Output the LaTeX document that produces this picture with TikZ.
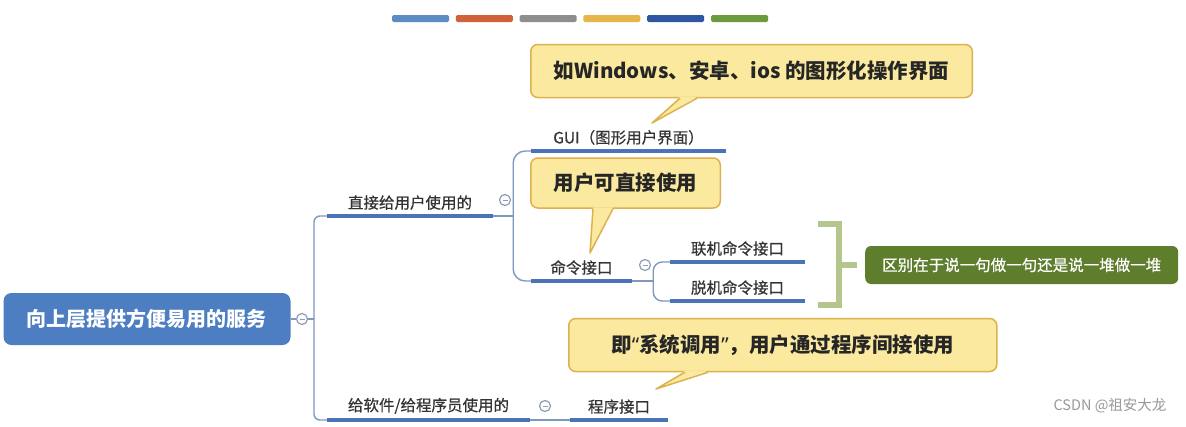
\documentclass[tikz,border=0pt]{standalone}
\usepackage{fontspec}
\setmainfont{Noto Sans CJK SC}
\newfontfamily\labelfont{Noto Sans CJK SC}[FakeBold=0.6]
\newfontfamily\quotefont{Noto Sans}
\usepackage{xcolor}
\definecolor{rootblue}{HTML}{4E7EC2}
\definecolor{lineblue}{HTML}{4B74B8}
\definecolor{twigblue}{HTML}{7F98BE}
\definecolor{foldgray}{HTML}{8C9DB6}
\definecolor{notefill}{HTML}{FAE99F}
\definecolor{noteedge}{HTML}{DCB24E}
\definecolor{sumgreen}{HTML}{5E7E2D}
\definecolor{bracegreen}{HTML}{B4C68C}
\definecolor{textgray}{HTML}{333333}
\definecolor{barblue}{HTML}{5B8CC4}
\definecolor{barred}{HTML}{D0623A}
\definecolor{bargray}{HTML}{8E8E8E}
\definecolor{baryellow}{HTML}{E7B54A}
\definecolor{barnavy}{HTML}{2F56A3}
\definecolor{bargreen}{HTML}{6C9B3F}
\usetikzlibrary{positioning}

\begin{document}
\begin{tikzpicture}[x=1pt, y=-1pt,
  root/.style={rounded corners=8pt, fill=rootblue, text=white, font=\fontsize{20}{24}\selectfont\bfseries, minimum width=287pt, minimum height=52pt},
  topic/.style={anchor=south, inner xsep=0pt, inner ysep=6pt, text=textgray, font=\labelfont\fontsize{15.5}{18}\selectfont},
  uline/.style={lineblue, line width=3.5pt},
  twig/.style={twigblue, line width=1.4pt},
  fold/.style={circle, draw=foldgray, line width=1.2pt, fill=white, minimum size=11pt, inner sep=0pt,
    path picture={\draw[foldgray, line width=1pt] ([xshift=-2.5pt]path picture bounding box.center) -- ([xshift=2.5pt]path picture bounding box.center);}},
  note/.style={anchor=west, rounded corners=7pt, draw=noteedge, fill=notefill, line width=1.5pt, inner xsep=23pt, minimum height=53pt, text=black!85, font=\fontsize{20.5}{24}\selectfont\bfseries},
  pointer/.style={noteedge, line width=1.5pt, line join=round},
  summary/.style={anchor=west, rounded corners=6pt, fill=sumgreen, text=white, inner xsep=17pt, minimum height=38pt, font=\labelfont\fontsize{15.5}{18}\selectfont},
  brace/.style={bracegreen, line width=5.5pt}]

  \fill[white] (0,0) rectangle (1186,426);
  \useasboundingbox (0,0) rectangle (1186,426);

  % colour strip
  \foreach \c [count=\i from 0] in {barblue,barred,bargray,baryellow,barnavy,bargreen}
    \fill[\c, rounded corners=1.5pt] (392+\i*63.8,15) rectangle ++(57,7);

  % topics
  \node[root] (service) at (147,319) {向上层提供方便易用的服务};
  \node[topic, minimum width=166pt] (user) at (410,216) {直接给用户使用的};
  \node[topic, minimum width=203pt] (dev) at (428.5,420) {给软件/给程序员使用的};
  \node[topic, minimum width=195pt] (gui) at (628.5,151) {GUI（图形用户界面）};
  \node[topic, minimum width=101pt] (cmd) at (581.5,281) {命令接口};
  \node[topic, minimum width=135pt] (online) at (737.5,262) {联机命令接口};
  \node[topic, minimum width=135pt] (offline) at (737.5,301) {脱机命令接口};
  \node[topic, minimum width=98pt] (api) at (619,420) {程序接口};

  % branches
  \coordinate (trunk) at (314,319);
  \draw[twig] (service.east) -- (trunk);
  \draw[twig, rounded corners=6pt] (user.south west) -- (user.south west -| trunk) -- (dev.south west -| trunk) -- (dev.south west);
  \draw[twig] (user.south east) -- ++(20,0);
  \draw[twig, rounded corners=12pt] (gui.south west) -| ([xshift=20pt]user.south east) |- (cmd.south west);
  \draw[twig] (cmd.south east) -- ++(21,0);
  \draw[twig, rounded corners=9pt] (online.south west) -| ([xshift=21pt]cmd.south east) |- (offline.south west);
  \draw[twig] (dev.south east) -- (api.south west);
  \foreach \t in {user,dev,gui,cmd,online,offline,api}
    \draw[uline] (\t.south west) -- (\t.south east);

  % fold buttons
  \node[fold] (f0) at (302,319) {};
  \node[fold] (f1) at (505,200) {};
  \node[fold] (f2) at (645,265) {};
  \node[fold] (f3) at (545,406) {};

  % notes
  \node[note] (guinote) at (530,71) {如Windows、安卓、ios 的图形化操作界面};
  \node[note, minimum height=50pt] (cmdnote) at (530,183) {用户可直接使用};
  \node[note, minimum width=428pt] (apinote) at (568,345) {即{\quotefont\bfseries “}系统调用{\quotefont\bfseries ”}，用户通过程序间接使用};
  \coordinate (guitip) at (652,123);
  \coordinate (cmdtip) at (590,253);
  \coordinate (apitip) at (656,389);
  \fill[notefill] ([xshift=150pt, yshift=1.5pt]guinote.south west) -- (guitip) -- ([xshift=167pt, yshift=1.5pt]guinote.south west) -- cycle;
  \draw[pointer] ([xshift=150pt]guinote.south west) -- (guitip) -- ([xshift=167pt]guinote.south west);
  \fill[notefill] ([xshift=63pt, yshift=1.5pt]cmdnote.south west) -- (cmdtip) -- ([xshift=83pt, yshift=1.5pt]cmdnote.south west) -- cycle;
  \draw[pointer] ([xshift=63pt]cmdnote.south west) -- (cmdtip) -- ([xshift=83pt]cmdnote.south west);
  \fill[notefill] ([xshift=117pt, yshift=1.5pt]apinote.south west) -- (apitip) -- ([xshift=140pt, yshift=1.5pt]apinote.south west) -- cycle;
  \draw[pointer] ([xshift=117pt]apinote.south west) -- (apitip) -- ([xshift=140pt]apinote.south west);

  % summary of the two command interfaces
  \node[summary] (diff) at (865,265) {区别在于说一句做一句还是说一堆做一堆};
  \coordinate (braceback) at (839,265);
  \draw[brace] (818,224) -- (839,224) -- (839,305) -- (818,305);
  \draw[brace] (braceback) -- ([xshift=-8pt]diff.west);

  \node[anchor=east, text=black!40, font=\fontsize{14.5}{16}\selectfont] (mark) at (1170,406) {CSDN @祖安大龙};
\end{tikzpicture}
\end{document}
